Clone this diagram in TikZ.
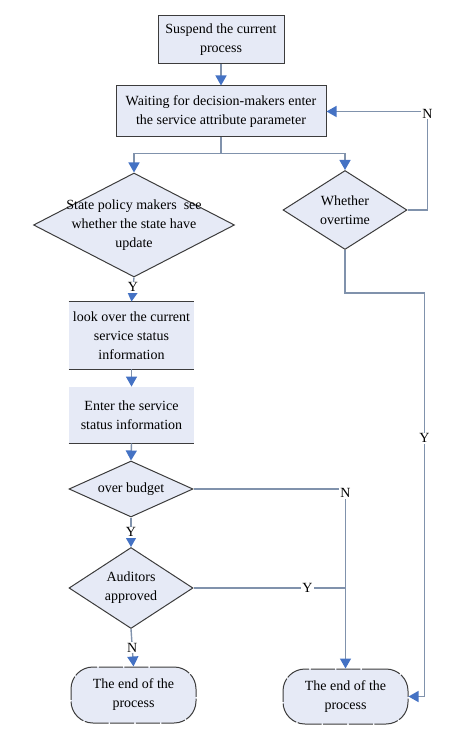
\documentclass[tikz,border=0pt]{standalone}
\usepackage{fontspec}
\setmainfont{Liberation Serif}
\usetikzlibrary{arrows.meta,shapes}
\definecolor{boxfill}{RGB}{230,234,246}
\definecolor{linegray}{RGB}{128,146,172}
\definecolor{tipblue}{RGB}{68,114,196}
\definecolor{edgegray}{RGB}{60,60,60}
\tikzstyle{process}=[rectangle,fill=boxfill,draw=edgegray,line width=0.5pt,align=center,inner sep=0pt]
\tikzstyle{plain}=[rectangle,fill=boxfill,align=center,inner sep=0pt]
\tikzstyle{decision}=[diamond,fill=boxfill,draw=edgegray,line width=0.5pt,inner sep=0pt]
\tikzstyle{terminal}=[rectangle,rounded corners=11pt,fill=boxfill,draw=edgegray,line width=0.5pt,dash pattern=on 12pt off 0.8pt,align=center,inner sep=0pt]
\tikzstyle{link} = [draw,color=linegray,line width=0.7pt]
\tikzstyle{flow} = [link,-{Triangle[width=5.5pt,length=5pt,color=tipblue]}]
\tikzstyle{tag} = [fill=white,text=black,inner sep=0.5pt]

\begin{document}
\begin{tikzpicture}[x=0.5pt,y=-0.5pt,font=\fontsize{7}{9.5}\selectfont]
    \useasboundingbox (0,0) rectangle (474,747);
    % First we draw the boxes and the decisions
    \node[process,minimum width=63pt,minimum height=24pt] (suspend) at (221,40) {Suspend the current\\process};
    \node[process,minimum width=105pt,minimum height=25.5pt] (waiting) at (221,111.5) {Waiting for decision-makers enter\\the service attribute parameter};
    \node[decision,minimum width=100.5pt,minimum height=52pt,
          label={[align=center]center:State policy makers\ \ see\\whether the state have\\update}] (policy) at (134,225) {};
    \node[decision,minimum width=62pt,minimum height=39.5pt,
          label={[align=center]center:Whether\\overtime}] (overtime) at (345,210) {};
    \node[plain,minimum width=62.5pt,minimum height=33.5pt] (look) at (131.5,335.5) {look over the current\\service status\\information};
    \node[plain,minimum width=62.5pt,minimum height=28pt] (enter) at (131.5,415) {Enter the service\\status information};
    \node[decision,minimum width=62pt,minimum height=28pt,
          label={center:over budget}] (budget) at (131,489) {};
    \node[decision,minimum width=62pt,minimum height=40.5pt,
          label={[align=center]center:Auditors\\approved}] (auditors) at (131,588) {};
    \node[terminal,minimum width=62.5pt,minimum height=28pt] (end1) at (133.5,695) {The end of the\\process};
    \node[terminal,minimum width=62.5pt,minimum height=27.5pt] (end2) at (345.5,696.5) {The end of the\\process};
    % Borders of the two plain boxes
    \draw[edgegray,line width=0.5pt] (look.north west) -- (look.north east) (look.south west) -- (look.south east);
    \draw[edgegray,line width=0.5pt] (enter.south west) -- (enter.south east);
    % Connect them with the arrows
    \foreach \source/\dest in {suspend/waiting, look/enter, enter/budget}
        \path[flow] (\source.south) -- (\dest.north);
    \draw[link] (waiting.south) -- ++(0,16) coordinate (fork);
    \draw[flow] (fork) -| (policy.north);
    \draw[flow] (fork) -| (overtime.north);
    \draw[flow] (overtime.east) -- ++(20,0) |- node[tag,pos=0.5,yshift=-1pt]{N} (waiting.east);
    \draw[flow] (overtime.south) -- ++(0,43) -| node[tag,pos=0.68]{Y} ([xshift=8pt]end2.east) -- (end2.east);
    \draw[flow] (policy.south) -- node[tag,pos=0.4]{Y} (look.north);
    \draw[flow] (budget.east) -| node[tag,pos=0.5,yshift=-2pt]{N} (end2.north);
    \draw[flow] (budget.south) -- node[tag]{Y} (auditors.north);
    \draw[link] (auditors.east) -- node[tag,pos=0.75]{Y} (auditors.east -| end2.north);
    \draw[flow] (auditors.south) -- node[tag]{N} (end1.north);
\end{tikzpicture}
\end{document}
